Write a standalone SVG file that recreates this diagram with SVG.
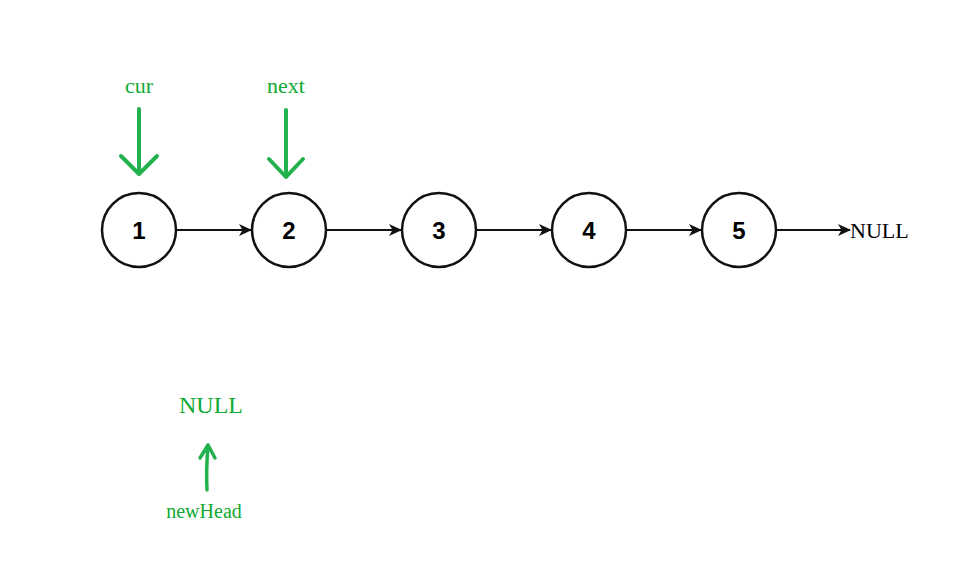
<svg xmlns="http://www.w3.org/2000/svg" width="976" height="561" viewBox="0 0 976 561">
<style>
.n circle{fill:#fff;stroke:#111;stroke-width:2.5}
.n text{font-family:"Liberation Sans",Arial,sans-serif;font-weight:bold;font-size:24px;text-anchor:middle;fill:#000}
.c line{stroke:#111;stroke-width:2}
.g{stroke:#22b14c;stroke-width:4;fill:none;stroke-linecap:round;stroke-linejoin:round}
.gt{font-family:"Liberation Serif","Times New Roman",serif;fill:#11aa33}
</style>
<defs><marker id="a" markerWidth="13" markerHeight="12" refX="12" refY="6" orient="auto" markerUnits="userSpaceOnUse"><path d="M0,0 L13,6 L0,12 L3.5,6 Z" fill="#111"/></marker></defs>
<rect width="976" height="561" fill="#fff"/>
<g id="connectors" class="c">
<line x1="177" y1="230" x2="251" y2="230" marker-end="url(#a)"/>
<line x1="327" y1="230" x2="401" y2="230" marker-end="url(#a)"/>
<line x1="477" y1="230" x2="551" y2="230" marker-end="url(#a)"/>
<line x1="627" y1="230" x2="701" y2="230" marker-end="url(#a)"/>
<line x1="777" y1="230" x2="850" y2="230" marker-end="url(#a)"/>
</g>
<g id="n1" class="n"><circle cx="139" cy="230" r="37"/><text x="139" y="239">1</text></g>
<g id="n2" class="n"><circle cx="289" cy="230" r="37"/><text x="289" y="239">2</text></g>
<g id="n3" class="n"><circle cx="439" cy="230" r="37"/><text x="439" y="239">3</text></g>
<g id="n4" class="n"><circle cx="589" cy="230" r="37"/><text x="589" y="239">4</text></g>
<g id="n5" class="n"><circle cx="739" cy="230" r="37"/><text x="739" y="239">5</text></g>
<text x="850" y="238" font-family="Liberation Serif,serif" font-size="22" fill="#000">NULL</text>
<g id="cur"><text class="gt" x="139" y="93" font-size="22" text-anchor="middle">cur</text><path class="g" d="M139,109 V174 M121,156 L139,174 L157,156"/></g>
<g id="next"><text class="gt" x="286" y="93" font-size="22" text-anchor="middle">next</text><path class="g" d="M286,110 V177 M269,159 L286,177 L303,159"/></g>
<g id="null2"><text class="gt" x="211" y="413" font-size="24" text-anchor="middle">NULL</text></g>
<g id="newHead"><path class="g" style="stroke-width:3.5" d="M207,490 Q206,470 208,445 M200,458 L208,445 L215,458"/><text class="gt" x="204" y="518" font-size="20" text-anchor="middle">newHead</text></g>
</svg>
